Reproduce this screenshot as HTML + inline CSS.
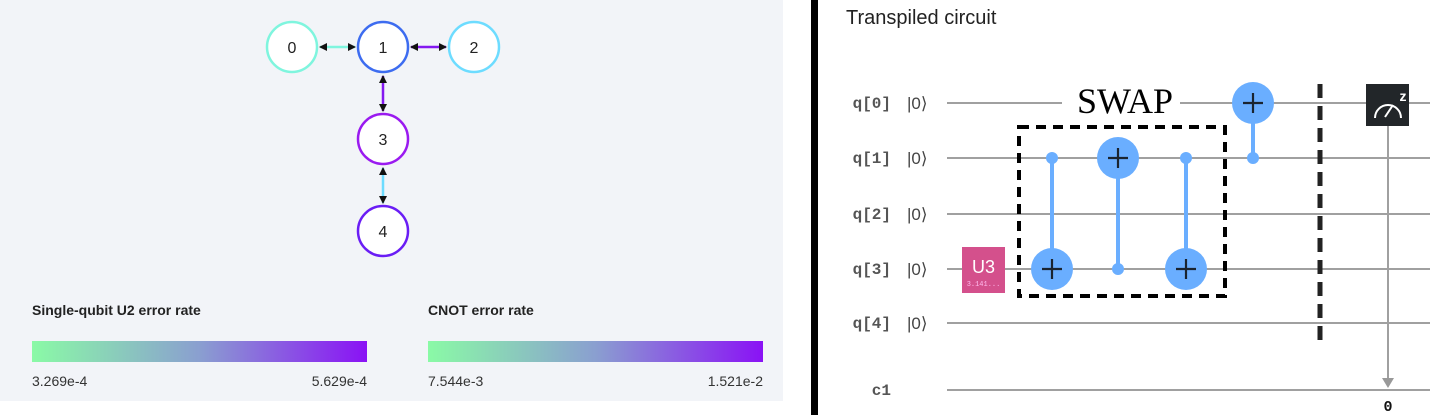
<!DOCTYPE html>
<html><head><meta charset="utf-8"><style>
html,body{margin:0;padding:0;background:#fff;width:1430px;height:415px;overflow:hidden}
svg{display:block}
</style></head><body>
<svg width="1430" height="415" viewBox="0 0 1430 415" xmlns="http://www.w3.org/2000/svg">
<defs>
<linearGradient id="g" x1="0" x2="1" y1="0" y2="0">
<stop offset="0" stop-color="#8afaa6"/><stop offset="0.5" stop-color="#8a9fd0"/><stop offset="1" stop-color="#8a12f5"/>
</linearGradient>
<marker id="ah" markerWidth="8" markerHeight="8" refX="7" refY="4" orient="auto-start-reverse" markerUnits="userSpaceOnUse"><path d="M0,0 L8,4 L0,8 z" fill="#111"/></marker>
</defs>
<rect x="0" y="0" width="783" height="401" fill="#f2f4f8"/>
<rect x="811" y="0" width="7" height="415" fill="#000"/>
<g stroke-width="2.5" fill="none">
<line x1="320" y1="47" x2="355" y2="47" stroke="#7ff5de" marker-start="url(#ah)" marker-end="url(#ah)"/>
<line x1="411" y1="47" x2="446" y2="47" stroke="#8418f0" marker-start="url(#ah)" marker-end="url(#ah)"/>
<line x1="383" y1="76" x2="383" y2="111" stroke="#8418f0" marker-start="url(#ah)" marker-end="url(#ah)"/>
<line x1="383" y1="168" x2="383" y2="203" stroke="#6ddcff" marker-start="url(#ah)" marker-end="url(#ah)"/>
</g>
<g stroke-width="2.5" fill="#fff">
<circle cx="292" cy="47" r="25" stroke="#7ff5de"/>
<circle cx="383" cy="47" r="25" stroke="#3d6cf0"/>
<circle cx="474" cy="47" r="25" stroke="#6ddcff"/>
<circle cx="383" cy="139" r="25" stroke="#9a1af0"/>
<circle cx="383" cy="231" r="25" stroke="#6a1df5"/>
</g>
<g font-family="'Liberation Sans',sans-serif" font-size="16" fill="#222" text-anchor="middle">
<text x="292" y="53">0</text><text x="383" y="53">1</text><text x="474" y="53">2</text><text x="383" y="145">3</text><text x="383" y="237">4</text>
</g>
<g font-family="'Liberation Sans',sans-serif" fill="#222">
<text x="32" y="315" font-size="14" font-weight="bold">Single-qubit U2 error rate</text>
<text x="428" y="315" font-size="14" font-weight="bold">CNOT error rate</text>
<rect x="32" y="341" width="335" height="21" fill="url(#g)"/>
<rect x="428" y="341" width="335" height="21" fill="url(#g)"/>
<g font-size="14" fill="#333">
<text x="32" y="386">3.269e-4</text><text x="367" y="386" text-anchor="end">5.629e-4</text>
<text x="428" y="386">7.544e-3</text><text x="763" y="386" text-anchor="end">1.521e-2</text>
</g>
</g>
<text x="846" y="24" font-family="'Liberation Sans',sans-serif" font-size="20" fill="#222">Transpiled circuit</text>
<g stroke="#a0a0a0" stroke-width="2">
<line x1="947" y1="103" x2="1062" y2="103"/><line x1="1180" y1="103" x2="1430" y2="103"/>
<line x1="947" y1="158" x2="1430" y2="158"/>
<line x1="947" y1="214" x2="1430" y2="214"/>
<line x1="947" y1="269" x2="1430" y2="269"/>
<line x1="947" y1="323" x2="1430" y2="323"/>
<line x1="947" y1="390" x2="1430" y2="390"/>
<line x1="1388" y1="126" x2="1388" y2="382"/>
</g>
<path d="M1382,378 L1394,378 L1388,388 z" fill="#999"/>
<g font-family="'Liberation Mono',monospace" font-size="16" font-weight="bold" fill="#555" text-anchor="end">
<text x="891" y="108">q[0]</text><text x="891" y="163">q[1]</text><text x="891" y="219">q[2]</text><text x="891" y="274">q[3]</text><text x="891" y="328">q[4]</text><text x="891" y="395">c1</text>
</g>
<g font-family="'Liberation Sans',sans-serif" font-size="17" fill="#444">
<text x="907" y="109">|0⟩</text><text x="907" y="164">|0⟩</text><text x="907" y="220">|0⟩</text><text x="907" y="275">|0⟩</text><text x="907" y="329">|0⟩</text>
</g>
<text x="1388" y="411" font-family="'Liberation Mono',monospace" font-size="15" font-weight="bold" fill="#111" text-anchor="middle">0</text>
<text x="1125" y="113" font-family="'Liberation Serif',serif" font-size="36" fill="#000" text-anchor="middle">SWAP</text>
<rect x="1019" y="127" width="206" height="169" fill="none" stroke="#000" stroke-width="4" stroke-dasharray="10,7"/>
<rect x="962" y="247" width="43" height="46" fill="#d4508c"/>
<text x="983.5" y="273" font-family="'Liberation Sans',sans-serif" font-size="18" fill="#fff" text-anchor="middle">U3</text>
<text x="983.5" y="286" font-family="'Liberation Mono',monospace" font-size="7" fill="#fbe" text-anchor="middle">3.141...</text>
<g fill="#6aaeff" stroke="#6aaeff">
<line x1="1052" y1="158" x2="1052" y2="269" stroke-width="4"/><circle cx="1052" cy="158" r="6" stroke="none"/><circle cx="1052" cy="269" r="21" stroke="none"/>
<line x1="1118" y1="158" x2="1118" y2="269" stroke-width="4"/><circle cx="1118" cy="269" r="6" stroke="none"/><circle cx="1118" cy="158" r="21" stroke="none"/>
<line x1="1186" y1="158" x2="1186" y2="269" stroke-width="4"/><circle cx="1186" cy="158" r="6" stroke="none"/><circle cx="1186" cy="269" r="21" stroke="none"/>
<line x1="1253" y1="103" x2="1253" y2="158" stroke-width="4"/><circle cx="1253" cy="158" r="6" stroke="none"/><circle cx="1253" cy="103" r="21" stroke="none"/>
</g>
<g stroke="#1a2430" stroke-width="2.2">
<path d="M1052,259v20M1042,269h20"/><path d="M1118,148v20M1108,158h20"/><path d="M1186,259v20M1176,269h20"/><path d="M1253,93v20M1243,103h20"/>
</g>
<line x1="1320" y1="84" x2="1320" y2="345" stroke="#222" stroke-width="5" stroke-dasharray="14,8"/>
<rect x="1366" y="84" width="43" height="42" fill="#222629"/>
<path d="M1375,118 A13,13 0 0 1 1401,118" fill="none" stroke="#fff" stroke-width="2"/>
<line x1="1385" y1="117" x2="1393" y2="105" stroke="#fff" stroke-width="2"/>
<text x="1403" y="101" font-family="'Liberation Sans',sans-serif" font-size="14" font-weight="bold" fill="#fff" text-anchor="middle">z</text>
</svg>
</body></html>
